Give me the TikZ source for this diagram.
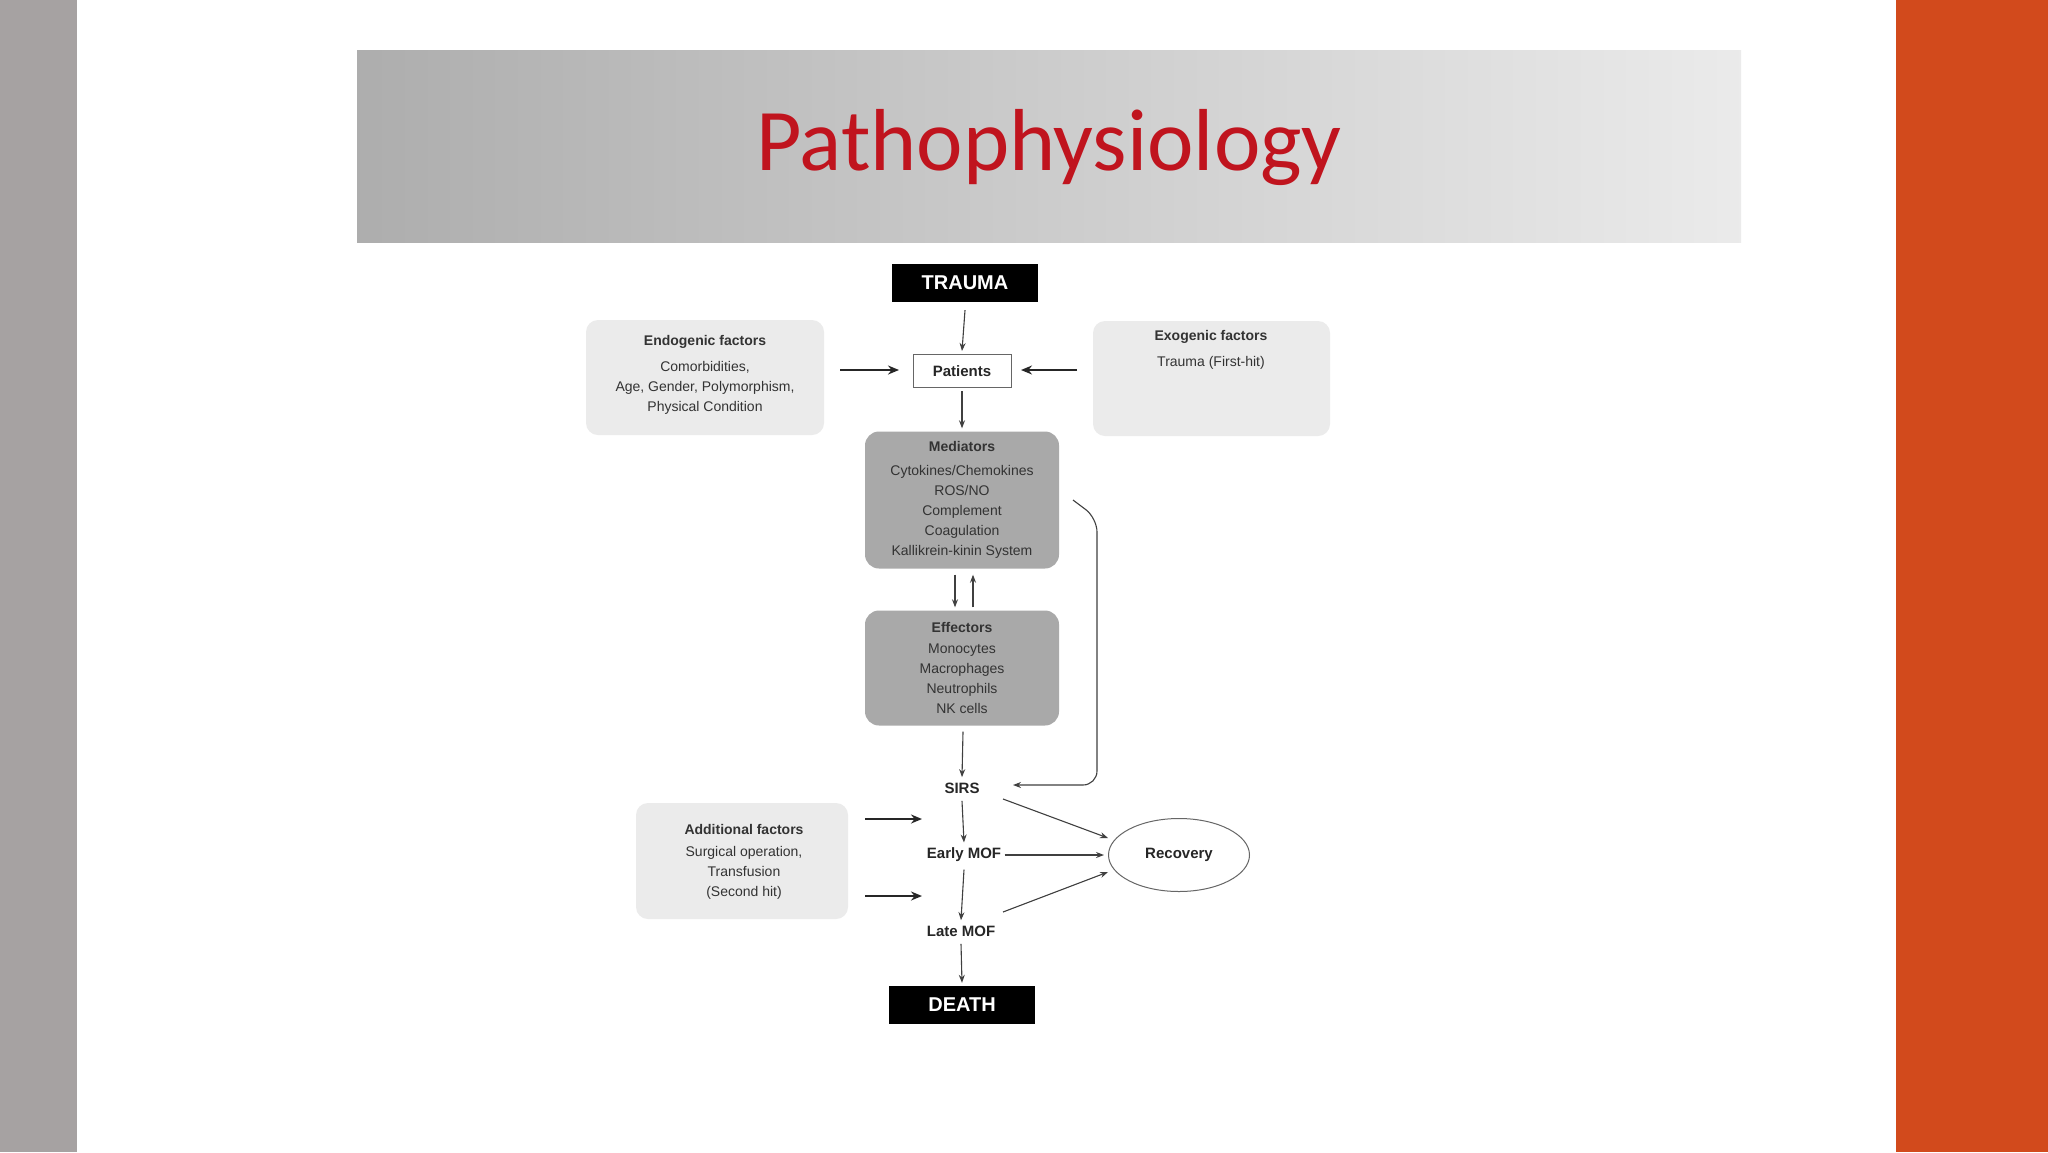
\documentclass[tikz,border=0pt]{standalone}
\usepackage{fontspec}
\setmainfont{Liberation Sans}
\newfontfamily\titlefont{Carlito}
\usetikzlibrary{arrows.meta,shapes.geometric,calc}
\definecolor{sidegray}{HTML}{A6A2A2}
\definecolor{sideorange}{HTML}{D24A1C}
\definecolor{titlered}{HTML}{C0141E}
\definecolor{lightbox}{HTML}{EBEBEB}
\definecolor{darkbox}{HTML}{A9A9A9}
\tikzset{
  body/.style={font=\fontsize{14}{20}\selectfont, text=black!80, align=center},
  blackbox/.style={fill=black, text=white, font=\fontsize{20}{22}\selectfont\bfseries, minimum width=146pt, minimum height=38pt, inner sep=0pt},
  dbox/.style={fill=darkbox, rounded corners=14pt, inner sep=0pt},
  lbl/.style={font=\fontsize{15}{18}\selectfont\bfseries, text=black!85},
  thin/.style={-{Stealth[length=8pt,width=6pt]}, line width=1.1pt, black!75},
  thick/.style={-{Stealth[length=11pt,width=9pt]}, line width=2.6pt, black!85},
}
\begin{document}
\begin{tikzpicture}[x=1pt,y=-1pt]
\useasboundingbox (0,0) rectangle (2048,1152);
\fill[white] (0,0) rectangle (2048,1152);
\fill[sidegray] (0,0) rectangle (77,1152);
\fill[sideorange] (1896,0) rectangle (2048,1152);
\shade[left color=black!32, right color=black!8] (357,50) rectangle (1741,242);
\node[text=titlered, font=\titlefont\fontsize{88}{90}\selectfont] (title) at (1049,148) {Pathophysiology};

\node[blackbox] (trauma) at (965,283) {TRAUMA};
\node[draw=black!60, line width=1pt, fill=white, minimum width=98pt, minimum height=33pt, inner sep=0pt, lbl] (pat) at (962,371) {Patients};

\fill[lightbox, rounded corners=12pt] (586,320) rectangle (824,435);
\node[body] (endo) at (705,375) {\textbf{Endogenic factors}\\[6pt]Comorbidities,\\Age, Gender, Polymorphism,\\Physical Condition};
\fill[lightbox, rounded corners=12pt] (1093,321) rectangle (1330,436);
\node[body, anchor=north] (exo) at (1211,327) {\textbf{Exogenic factors}\\[6pt]Trauma (First-hit)};

\node[dbox, minimum width=194pt, minimum height=137pt] (med) at (962,500) {};
\node[body] (medt) at (962,500) {\textbf{Mediators}\\[4pt]Cytokines/Chemokines\\ROS/NO\\Complement\\Coagulation\\Kallikrein-kinin System};
\node[dbox, minimum width=194pt, minimum height=115pt] (eff) at (962,668) {};
\node[body] (efft) at (962,668) {\textbf{Effectors}\\[1pt]Monocytes\\Macrophages\\Neutrophils\\NK cells};

\node[lbl] (sirs) at (962,788) {SIRS};
\node[lbl] (early) at (964,855) {Early MOF};
\node[lbl] (late) at (961,931) {Late MOF};
\node[blackbox] (death) at (962,1005) {DEATH};
\node[draw=black!60, line width=1pt, ellipse, minimum width=141pt, minimum height=73pt, lbl] (rec) at (1179,855) {Recovery};

\fill[lightbox, rounded corners=12pt] (636,803) rectangle (848,919);
\node[body] (add) at (744,862) {\textbf{Additional factors}\\[2pt]Surgical operation,\\Transfusion\\(Second hit)};

\coordinate (e1) at (840,370); \coordinate (e2) at (899,370);
\coordinate (x1) at (1077,370); \coordinate (x2) at (1021,370);
\coordinate (a1) at (865,819); \coordinate (a2) at (922,819);
\coordinate (b1) at (865,896); \coordinate (b2) at (922,896);
\draw[thick] (e1) -- (e2);
\draw[thick] (x1) -- (x2);
\draw[thick] (a1) -- (a2);
\draw[thick] (b1) -- (b2);

\draw[thin] ($(trauma.south)+(0,8)$) -- ($(pat.north)+(0,-3)$);
\draw[thin] ($(pat.south)+(0,3)$) -- ($(med.north)+(0,-3)$);
\draw[thin] ($(med.south)+(-7,6)$) -- ($(eff.north)+(-7,-3)$);
\draw[thin] ($(eff.north)+(11,-3)$) -- ($(med.south)+(11,6)$);
\draw[thin] ($(eff.south)+(1,6)$) -- ($(sirs.north)+(0,-2)$);
\draw[thin] ($(sirs.south)+(0,4)$) -- ($(early.north)+(0,-2)$);
\draw[thin] ($(early.south)+(0,4)$) -- ($(late.north)+(0,-2)$);
\draw[thin] ($(late.south)+(0,4)$) -- ($(death.north)+(0,-3)$);
\draw[thin, rounded corners=14pt] (1073,500) -- (1097,518) -- (1097,785) -- (1013,785);
\draw[thin] (1003,799) -- (1108,838);
\draw[thin] (early.east) -- (1104,855);
\draw[thin] (1003,912) -- (1108,872);
\end{tikzpicture}
\end{document}
